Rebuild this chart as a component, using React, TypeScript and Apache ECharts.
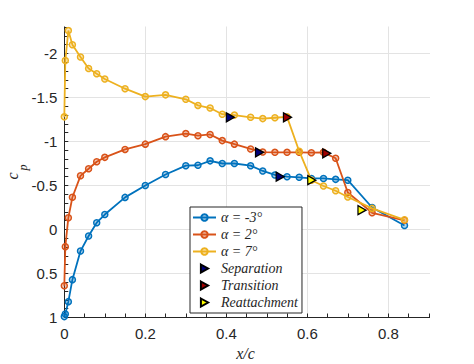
import React, { useEffect, useRef } from "react";
import * as echarts from "echarts";

const xStations = [0, 0.0025, 0.01, 0.02, 0.04, 0.06, 0.08, 0.1, 0.15, 0.2, 0.25, 0.3, 0.33, 0.36, 0.39, 0.42, 0.46, 0.49, 0.52, 0.55, 0.58, 0.61, 0.64, 0.67, 0.7, 0.76, 0.84];
const cpAlphaNeg3 = [0.99, 0.96, 0.82, 0.57, 0.245, 0.074, -0.077, -0.17, -0.365, -0.5, -0.625, -0.725, -0.73, -0.78, -0.75, -0.75, -0.725, -0.665, -0.62, -0.6, -0.593, -0.58, -0.58, -0.57, -0.56, -0.25, -0.045];
const cpAlpha2 = [0.64, 0.195, -0.134, -0.366, -0.61, -0.69, -0.77, -0.82, -0.91, -0.97, -1.055, -1.09, -1.066, -1.08, -1.01, -0.97, -0.915, -0.88, -0.877, -0.877, -0.877, -0.873, -0.877, -0.81, -0.42, -0.19, -0.105];
const cpAlpha7 = [-1.28, -1.92, -2.26, -2.1, -1.96, -1.83, -1.77, -1.71, -1.6, -1.51, -1.53, -1.48, -1.41, -1.38, -1.31, -1.3, -1.275, -1.26, -1.27, -1.28, -0.89, -0.56, -0.494, -0.44, -0.37, -0.24, -0.11];

const separationX = [0.533, 0.482, 0.41];
const separationCp = [-0.6, -0.877, -1.275];
const transitionX = [0.551, 0.648];
const transitionCp = [-1.275, -0.866];
const reattachX = [0.611, 0.735];
const reattachCp = [-0.56, -0.22];

const seriesNames = ["α = -3°", "α = 2°", "α = 7°"];
const seriesColors = ["#0072BD", "#D95319", "#EDB120"];
const seriesFills = ["rgba(0,114,189,0.3)", "rgba(217,83,25,0.3)", "rgba(237,177,32,0.3)"];
const markerNames = ["Separation", "Transition", "Reattachment"];
const markerFills = ["#00007A", "#A00000", "#FFFF00"];

const xTickLabels = ["0", "0.2", "0.4", "0.6", "0.8"];
const yTickLabels = ["-2", "-1.5", "-1", "-0.5", "0", "0.5", "1"];

const zip = (xs: number[], ys: number[]) => xs.map((x, i) => [x, ys[i]]);
const triPath = "path://M0,0L9,5L0,10Z";

export default function App() {
  const ref = useRef<HTMLDivElement>(null);
  useEffect(() => {
    document.body.style.margin = "0";
    if (!ref.current) return;
    const chart = echarts.init(ref.current, null, { renderer: "svg" });
    const cps = [cpAlphaNeg3, cpAlpha2, cpAlpha7];
    const lineSeries = cps.map((cp, i) => ({
      name: seriesNames[i],
      type: "line",
      data: zip(xStations, cp),
      symbol: "circle",
      symbolSize: 6,
      showSymbol: true,
      lineStyle: { color: seriesColors[i], width: 1.8 },
      itemStyle: { color: seriesFills[i], borderColor: seriesColors[i], borderWidth: 1.5 },
      z: 3 + i,
    }));
    const mx = [separationX, transitionX, reattachX];
    const my = [separationCp, transitionCp, reattachCp];
    const markerSeries = mx.map((xs, i) => ({
      name: markerNames[i],
      type: "scatter",
      data: zip(xs, my[i]),
      symbol: triPath,
      symbolSize: [8, 9],
      itemStyle: { color: markerFills[i], borderColor: "#000", borderWidth: 1.3, opacity: 1 },
      z: 10,
    }));
    const fmtX = (v: number) => {
      const s = String(Math.round(v * 10) / 10);
      return xTickLabels.includes(s) ? s : "";
    };
    const fmtY = (v: number) => {
      const s = String(Math.round(v * 10) / 10);
      return yTickLabels.includes(s) ? s : "";
    };
    chart.setOption({
      animation: false,
      backgroundColor: "#fff",
      grid: { left: 64.3, right: 4.7, top: 9.5, bottom: 46.5, containLabel: false },
      xAxis: {
        type: "value",
        min: 0,
        max: 1,
        interval: 0.2,
        axisLine: { show: true, onZero: false, lineStyle: { color: "#262626", width: 1 } },
        axisTick: { show: true, inside: true, length: 4, lineStyle: { color: "#262626" } },
        minorTick: { show: true, splitNumber: 4, length: 4, lineStyle: { color: "#262626" } },
        splitLine: { show: true, lineStyle: { color: "#e3e3e3", width: 1 } },
        axisLabel: { formatter: fmtX, color: "#262626", fontSize: 15, fontFamily: "Liberation Sans", margin: 8 },
      },
      yAxis: {
        type: "value",
        inverse: true,
        min: -2.5,
        max: 1,
        interval: 0.5,
        axisLine: { show: true, onZero: false, lineStyle: { color: "#262626", width: 1 } },
        axisTick: { show: true, inside: true, length: 4, lineStyle: { color: "#262626" } },
        minorTick: { show: true, splitNumber: 5, length: 4, lineStyle: { color: "#262626" } },
        splitLine: { show: true, lineStyle: { color: "#e3e3e3", width: 1 } },
        axisLabel: { formatter: fmtY, color: "#262626", fontSize: 15, fontFamily: "Liberation Sans", margin: 7 },
      },
      legend: {
        orient: "vertical",
        left: 190,
        top: 207,
        padding: [2, 4, 2, 2],
        itemGap: 0,
        itemWidth: 23,
        itemHeight: 8,
        backgroundColor: "#fff",
        borderColor: "#262626",
        borderWidth: 1,
        textStyle: { fontFamily: "Liberation Serif", fontStyle: "italic", fontSize: 14, color: "#262626", lineHeight: 17 },
        data: [
          ...seriesNames.map((n) => ({ name: n })),
          ...markerNames.map((n) => ({ name: n, icon: triPath })),
        ],
      },
      graphic: [
        { type: "rect", shape: { x: 30, y: 0, width: 444, height: 26.5 }, style: { fill: "#fff" }, z: 100 },
        { type: "rect", shape: { x: 430, y: 0, width: 44, height: 364 }, style: { fill: "#fff" }, z: 100 },
        {
          type: "text", x: 245.5, y: 353, z: 101,
          style: { text: "x/c", fontFamily: "Liberation Serif", fontStyle: "italic", fontSize: 16, fill: "#262626", align: "center", verticalAlign: "middle" },
        },
        {
          type: "text", x: 12, y: 176, rotation: Math.PI / 2, z: 101,
          style: { text: "c", fontFamily: "Liberation Serif", fontStyle: "italic", fontSize: 16, fill: "#262626", align: "center", verticalAlign: "middle" },
        },
        {
          type: "text", x: 23, y: 167.5, rotation: Math.PI / 2, z: 101,
          style: { text: "p", fontFamily: "Liberation Serif", fontStyle: "italic", fontSize: 12, fill: "#262626", align: "center", verticalAlign: "middle" },
        },
      ],
      series: [...lineSeries, ...markerSeries],
    });
    return () => chart.dispose();
  }, []);
  return <div ref={ref} style={{ width: 474, height: 364 }} />;
}
